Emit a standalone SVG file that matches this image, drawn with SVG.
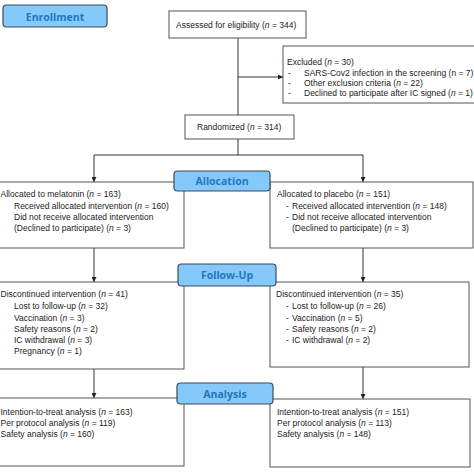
<svg xmlns="http://www.w3.org/2000/svg" width="474" height="474" viewBox="0 0 474 474">
<defs>
<style>
.box{fill:#fff;stroke:#555;stroke-width:1}
.lbl{fill:#85c9fb;stroke:#3b4b5c;stroke-width:1.2}
.lt{font-family:"Open Sans","Liberation Sans",sans-serif;font-weight:bold;font-size:10.5px;fill:#1f78be;text-anchor:middle}
.t{font-family:"Liberation Sans",Arial,sans-serif;font-size:8.5px;fill:#222}
.ln{fill:none;stroke:#333;stroke-width:1}
</style>
<marker id="ah" viewBox="0 0 10 10" refX="10" refY="5" markerWidth="5" markerHeight="5" orient="auto">
<path d="M0,0 L10,5 L0,10 z" fill="#222"/>
</marker>
</defs>
<rect width="474" height="474" fill="#fff"/>
<g id="connectors">
<path class="ln" d="M238,38 V115"/>
<path class="ln" d="M238,77 H283" marker-end="url(#ah)"/>
<path class="ln" d="M238,139 V155 H94 V182" marker-end="url(#ah)"/>
<path class="ln" d="M238,155 H363 V182" marker-end="url(#ah)"/>
<path class="ln" d="M94,248 V282" marker-end="url(#ah)"/>
<path class="ln" d="M363,248 V282" marker-end="url(#ah)"/>
<path class="ln" d="M94,369 V398" marker-end="url(#ah)"/>
<path class="ln" d="M363,367 V399" marker-end="url(#ah)"/>
</g>
<g id="assessed">
<rect class="box" x="169" y="11" width="137" height="27"/>
<text class="t" x="176" y="27.5">Assessed for eligibility (<tspan font-style="italic">n</tspan> = 344)</text>
</g>
<g id="excluded">
<rect class="box" x="283" y="46" width="200" height="57"/>
<text class="t" x="287" y="65">Excluded (<tspan font-style="italic">n</tspan> =  30)</text>
<text class="t" x="288" y="76">-</text>
<text class="t" x="304" y="76">SARS-Cov2 infection in the screening (n = 7)</text>
<text class="t" x="288" y="86">-</text>
<text class="t" x="304" y="86">Other exclusion criteria (<tspan font-style="italic">n</tspan> = 22)</text>
<text class="t" x="288" y="96">-</text>
<text class="t" x="304" y="96">Declined to participate after IC signed (<tspan font-style="italic">n</tspan> = 1)</text>
</g>
<g id="randomized">
<rect class="box" x="185" y="115" width="109" height="24"/>
<text class="t" x="197" y="130">Randomized (<tspan font-style="italic">n</tspan> = 314)</text>
</g>
<g id="alloc-left">
<rect class="box" x="-10" y="182" width="194" height="66"/>
<text class="t" x="0.5" y="197">Allocated to melatonin (<tspan font-style="italic">n</tspan> = 163)</text>
<text class="t" x="14" y="209">Received allocated intervention (<tspan font-style="italic">n</tspan> = 160)</text>
<text class="t" x="14" y="220">Did not receive allocated intervention</text>
<text class="t" x="14" y="231">(Declined to participate) (<tspan font-style="italic">n</tspan> = 3)</text>
</g>
<g id="alloc-right">
<rect class="box" x="270" y="182" width="203" height="66"/>
<text class="t" x="277" y="197">Allocated to placebo (<tspan font-style="italic">n</tspan> = 151)</text>
<text class="t" x="286" y="209">-</text>
<text class="t" x="292" y="209">Received allocated intervention (<tspan font-style="italic">n</tspan> = 148)</text>
<text class="t" x="286" y="220">-</text>
<text class="t" x="292" y="220">Did not receive allocated intervention</text>
<text class="t" x="292" y="231">(Declined to participate) (<tspan font-style="italic">n</tspan> = 3)</text>
</g>
<g id="follow-left">
<rect class="box" x="-10" y="282" width="194" height="87"/>
<text class="t" x="0.5" y="297">Discontinued intervention (<tspan font-style="italic">n</tspan> = 41)</text>
<text class="t" x="14" y="309">Lost to follow-up (<tspan font-style="italic">n</tspan> = 32)</text>
<text class="t" x="14" y="320.5">Vaccination (<tspan font-style="italic">n</tspan> = 3)</text>
<text class="t" x="14" y="332">Safety reasons (<tspan font-style="italic">n</tspan> = 2)</text>
<text class="t" x="14" y="343">IC withdrawal (<tspan font-style="italic">n</tspan> = 3)</text>
<text class="t" x="14" y="354">Pregnancy (<tspan font-style="italic">n</tspan> = 1)</text>
</g>
<g id="follow-right">
<rect class="box" x="270" y="282" width="199" height="85"/>
<text class="t" x="276" y="297">Discontinued intervention (<tspan font-style="italic">n</tspan> = 35)</text>
<text class="t" x="286" y="309">-</text>
<text class="t" x="292" y="309">Lost to follow-up (<tspan font-style="italic">n</tspan> = 26)</text>
<text class="t" x="286" y="320.5">-</text>
<text class="t" x="292" y="320.5">Vaccination (<tspan font-style="italic">n</tspan> = 5)</text>
<text class="t" x="286" y="332">-</text>
<text class="t" x="292" y="332">Safety reasons (<tspan font-style="italic">n</tspan> = 2)</text>
<text class="t" x="286" y="343">-</text>
<text class="t" x="292" y="343">IC withdrawal (<tspan font-style="italic">n</tspan> = 2)</text>
</g>
<g id="analysis-left">
<rect class="box" x="-10" y="398" width="194" height="68"/>
<text class="t" x="0.5" y="415">Intention-to-treat analysis (<tspan font-style="italic">n</tspan> = 163)</text>
<text class="t" x="0.5" y="426">Per protocol analysis (<tspan font-style="italic">n</tspan> = 119)</text>
<text class="t" x="0.5" y="436.5">Safety analysis (<tspan font-style="italic">n</tspan> = 160)</text>
</g>
<g id="analysis-right">
<rect class="box" x="270" y="399" width="200" height="68"/>
<text class="t" x="277" y="415">Intention-to-treat analysis (<tspan font-style="italic">n</tspan> = 151)</text>
<text class="t" x="277" y="426">Per protocol analysis (<tspan font-style="italic">n</tspan> = 113)</text>
<text class="t" x="277" y="436.5">Safety analysis (<tspan font-style="italic">n</tspan> = 148)</text>
</g>
<g id="enrollment">
<rect class="lbl" x="3" y="5" width="104" height="22" rx="3.5"/>
<text class="lt" x="55" y="20.5">Enrollment</text>
</g>
<g id="allocation">
<rect class="lbl" x="174" y="171" width="96" height="20" rx="3.5"/>
<text class="lt" x="222" y="185">Allocation</text>
</g>
<g id="follow-up">
<rect class="lbl" x="178" y="264" width="98" height="22" rx="3.5"/>
<text class="lt" x="227" y="279">Follow-Up</text>
</g>
<g id="analysis">
<rect class="lbl" x="177" y="383" width="96" height="21" rx="3.5"/>
<text class="lt" x="225" y="397.5">Analysis</text>
</g>
</svg>
